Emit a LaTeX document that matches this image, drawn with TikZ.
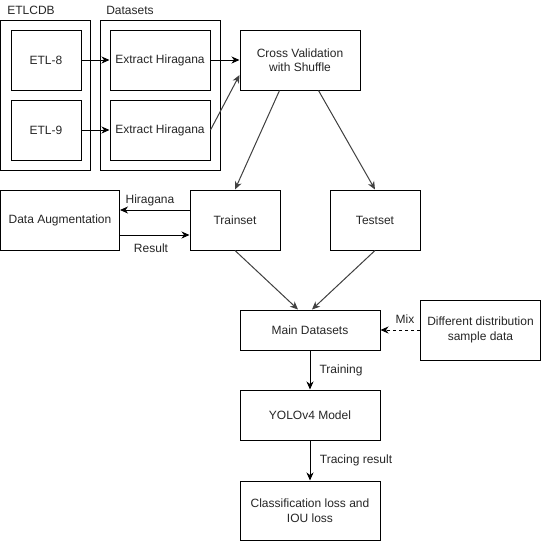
\documentclass[tikz,border=0pt]{standalone}
\usepackage{fontspec}
\setmainfont{Liberation Sans}
\usetikzlibrary{arrows.meta}
\begin{document}
\begin{tikzpicture}[x=1pt,y=-1pt,
  box/.style={draw=black,line width=1pt,inner sep=0pt,align=center,
    font=\fontsize{12}{14.5}\selectfont,text=black!85},
  lbl/.style={font=\fontsize{12}{14.5}\selectfont,text=black!85,inner sep=0pt},
  conn/.style={line width=1pt,-{Stealth[length=8pt,width=7pt,inset=2.5pt]}},
  diag/.style={conn,draw=black!75}]
\useasboundingbox (0,0) rectangle (541,542);
\fill[white] (0,0) rectangle (541,542);
% group boxes
\node[box,minimum width=90pt,minimum height=150pt] (etlcdb) at (45.5,95) {};
\node[box,minimum width=120pt,minimum height=150pt] (datasets) at (160,95) {};
\node[lbl] (etlcdblbl) at (31,10) {ETLCDB};
\node[lbl] (datasetslbl) at (130,10) {Datasets};
% nodes
\node[box,minimum width=70pt,minimum height=60pt] (etl8) at (46,60) {ETL-8};
\node[box,minimum width=70pt,minimum height=60pt] (etl9) at (46,130) {ETL-9};
\node[box,minimum width=100pt,minimum height=60pt] (ex1) at (160,60) {Extract Hiragana};
\node[box,minimum width=100pt,minimum height=60pt] (ex2) at (160,130) {Extract Hiragana};
\node[box,minimum width=120pt,minimum height=60pt] (cv) at (300,60) {Cross Validation\\with Shuffle};
\node[box,minimum width=90pt,minimum height=60pt] (train) at (235,220) {Trainset};
\node[box,minimum width=90pt,minimum height=60pt] (test) at (375,220) {Testset};
\node[box,minimum width=119pt,minimum height=60pt] (aug) at (60,220) {Data Augmentation};
\node[box,minimum width=140pt,minimum height=40pt] (main) at (310,330) {Main Datasets};
\node[box,minimum width=120pt,minimum height=60pt] (diff) at (480.5,330) {Different distribution\\sample data};
\node[box,minimum width=140pt,minimum height=50pt] (yolo) at (310,415) {YOLOv4 Model};
\node[box,minimum width=140pt,minimum height=59pt] (cls) at (310,510.5) {Classification loss and\\IOU loss};
% connectors
\draw[conn] (etl8.east) -- (ex1.west);
\draw[conn] (etl9.east) -- (ex2.west);
\draw[conn] (ex1.east) -- (cv.west);
\draw[diag] (ex2.east) -- ([yshift=-15pt]cv.west);
\draw[diag] ([xshift=40pt]cv.south west) -- (train.north);
\draw[diag] ([xshift=-42pt]cv.south east) -- (test.north);
\draw[conn] ([yshift=10pt]train.west) -- ([yshift=10pt]aug.east);
\draw[conn] ([yshift=-15pt]aug.east) -- ([yshift=-15pt]train.west);
\draw[diag] (train.south) -- ([xshift=-12pt]main.north);
\draw[diag] (test.south) -- ([xshift=2pt]main.north);
\draw[conn,dash pattern=on 3pt off 3pt] (diff.west) -- (main.east);
\draw[conn] (main.south) -- (yolo.north);
\draw[conn] (yolo.south) -- (cls.north);
% edge labels
\node[lbl] (hiralbl) at (150,200) {Hiragana};
\node[lbl] (reslbl) at (151,248.5) {Result};
\node[lbl] (mixlbl) at (405,319) {Mix};
\node[lbl] (trainlbl) at (341,370) {Training};
\node[lbl] (tracelbl) at (356,460) {Tracing result};
\end{tikzpicture}
\end{document}
